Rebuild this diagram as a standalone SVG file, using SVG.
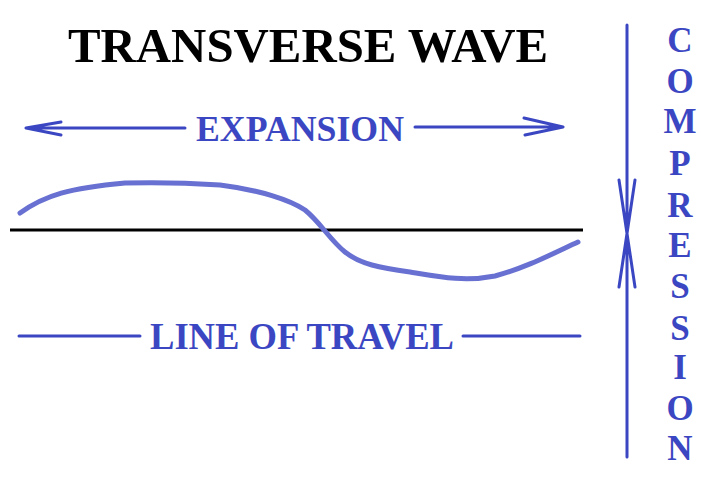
<svg xmlns="http://www.w3.org/2000/svg" width="725" height="491" viewBox="0 0 725 491">
<style>
.b{fill:#3b47c2;font-family:"Liberation Serif",serif;font-weight:bold}
.l{stroke:#3b47c2;stroke-width:3;fill:none;stroke-linecap:round}
</style>
<rect width="725" height="491" fill="#fff"/>
<g id="title"><text x="308" y="62" text-anchor="middle" font-family="Liberation Serif, serif" font-weight="bold" font-size="48" fill="#000" textLength="480" lengthAdjust="spacingAndGlyphs">TRANSVERSE WAVE</text></g>
<g id="expansion"><text class="b" x="300" y="141" text-anchor="middle" font-size="36" textLength="208" lengthAdjust="spacingAndGlyphs">EXPANSION</text></g>
<g id="travel"><text class="b" x="302" y="349" text-anchor="middle" font-size="37" textLength="304" lengthAdjust="spacingAndGlyphs">LINE OF TRAVEL</text></g>
<g id="compression">
<text class="b" x="680" font-size="35" text-anchor="middle">
<tspan x="680" y="52">C</tspan><tspan x="680" y="93">O</tspan><tspan x="680" y="133">M</tspan><tspan x="680" y="175">P</tspan><tspan x="680" y="217">R</tspan><tspan x="680" y="257">E</tspan><tspan x="680" y="298">S</tspan><tspan x="680" y="340">S</tspan><tspan x="680" y="379">I</tspan><tspan x="680" y="420">O</tspan><tspan x="680" y="460">N</tspan>
</text>
</g>
<g id="axis"><line x1="10" y1="230" x2="583" y2="230" stroke="#000" stroke-width="3"/></g>
<g id="wave"><path d="M20,213 C45,195 70,188 125,183 C160,182 190,183 220,185 C260,190 290,200 305,210 C320,222 330,240 345,252 C360,264 380,268 410,272 C440,277 465,282 495,276 C525,268 550,255 578,242" stroke="#6870d2" stroke-width="5" fill="none" stroke-linecap="round"/></g>
<g id="connectors">
<path class="l" d="M26,128 H185 M26,128 L61,122 M26,128 L61,135"/>
<path class="l" d="M415,127 H563 M563,127 L524,118 M563,127 L525,135"/>
<path class="l" d="M19,336 H140 M463,336 H580"/>
<path class="l" d="M627,25 V457 M619,180 L635,287 M635,180 L619,287"/>
</g>
</svg>
